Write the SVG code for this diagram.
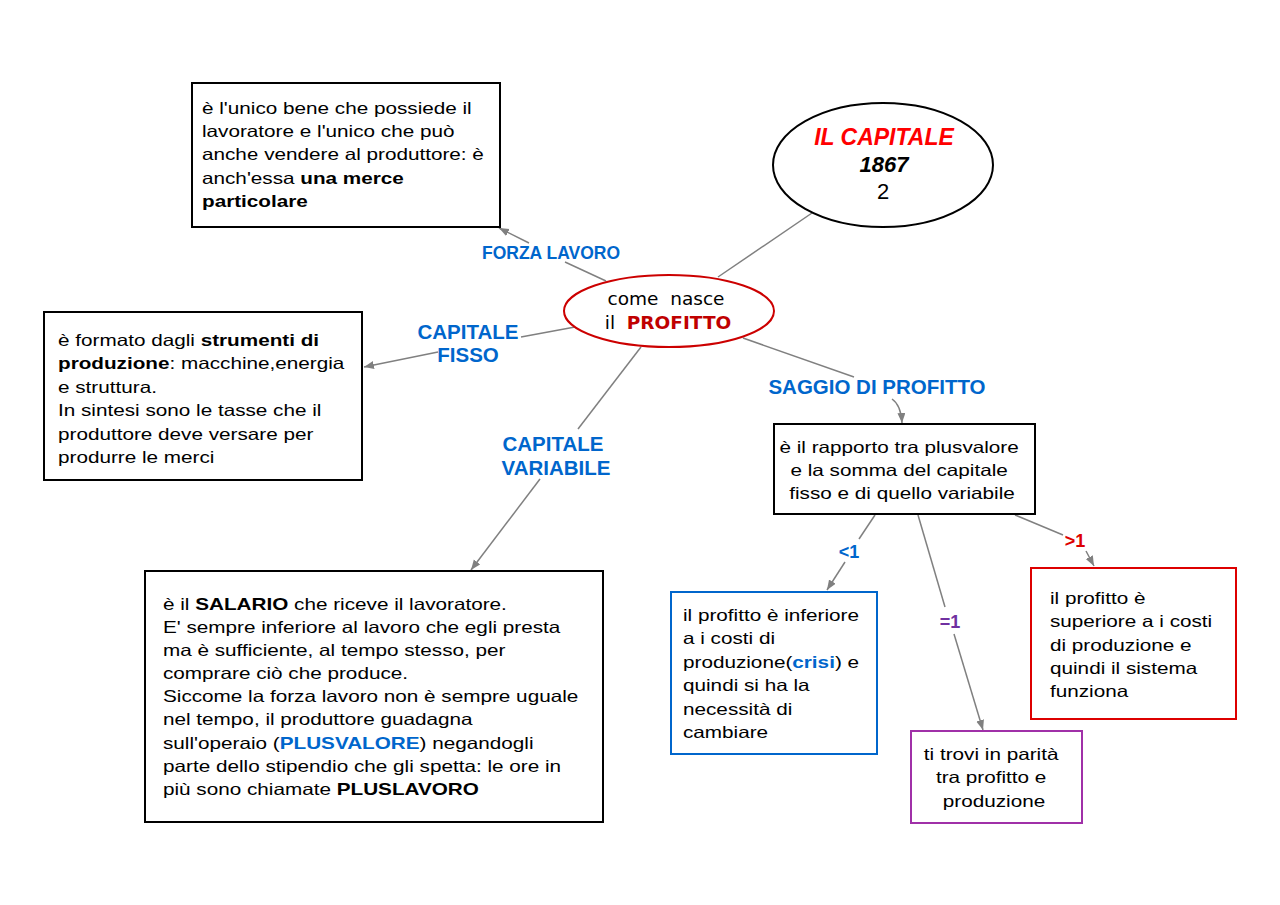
<svg xmlns="http://www.w3.org/2000/svg" width="1280" height="905" viewBox="0 0 1280 905">
<defs>
<style>
.body{font-family:"Liberation Sans",Arial,sans-serif;font-size:16.3px;fill:#000}
.b{font-weight:bold}
.blu{fill:#0066cc;font-weight:bold}
.lbl{font-family:"Liberation Sans",Arial,sans-serif;font-weight:bold;fill:#0066cc;text-anchor:middle}
.box{fill:#fff;stroke:#000;stroke-width:2}
.con{fill:none;stroke:#808080;stroke-width:1.5}
</style>
<marker id="arr" markerUnits="userSpaceOnUse" markerWidth="11" markerHeight="9" refX="10" refY="4" orient="auto">
<path d="M0,0 L10,4 L0,8 z" fill="#808080"/>
</marker>
</defs>
<rect width="1280" height="905" fill="#fff"/>

<g id="connectors">
<path class="con" d="M718,277 L812,213"/>
<path class="con" d="M606,281 L565,262"/>
<path class="con" d="M529,243 L499,228" marker-end="url(#arr)"/>
<path class="con" d="M575,327 L521,337"/>
<path class="con" d="M438,352 L364,367" marker-end="url(#arr)"/>
<path class="con" d="M641,347 L578,429"/>
<path class="con" d="M540,479 L471,570" marker-end="url(#arr)"/>
<path class="con" d="M743,338 L854,377"/>
<path class="con" d="M892,399 Q901,405 902,423" marker-end="url(#arr)"/>
<path class="con" d="M875,515 L859,539"/>
<path class="con" d="M845,562 L827,590" marker-end="url(#arr)"/>
<path class="con" d="M918,515 L945,607"/>
<path class="con" d="M954,634 L983,730" marker-end="url(#arr)"/>
<path class="con" d="M1015,515 L1063,535"/>
<path class="con" d="M1086,551 L1094,566" marker-end="url(#arr)"/>
<text class="lbl" x="551" y="259" font-size="17.5">FORZA LAVORO</text>
<text class="lbl" x="468" y="339" font-size="20.5">CAPITALE</text>
<text class="lbl" x="468" y="362" font-size="20.5">FISSO</text>
<text class="lbl" x="553" y="451" font-size="20.5">CAPITALE</text>
<text class="lbl" x="556" y="475" font-size="20.5">VARIABILE</text>
<text class="lbl" x="877" y="394" font-size="20.5">SAGGIO DI PROFITTO</text>
<text class="lbl" x="849" y="558" font-size="18">&lt;1</text>
<text class="lbl" x="950" y="628" font-size="18" style="fill:#7030a0">=1</text>
<text class="lbl" x="1075" y="547" font-size="18" style="fill:#dd0000">&gt;1</text>
</g>

<g id="n-capitale">
<ellipse cx="883" cy="165" rx="110" ry="62" fill="#fff" stroke="#000" stroke-width="2"/>
<text x="884" y="145" text-anchor="middle" font-family="Liberation Sans, Arial, sans-serif" font-size="23" font-weight="bold" font-style="italic" fill="#ff0000">IL CAPITALE</text>
<text x="884" y="172" text-anchor="middle" font-family="Liberation Sans, Arial, sans-serif" font-size="22" font-weight="bold" font-style="italic" fill="#000">1867</text>
<text x="883" y="199" text-anchor="middle" font-family="Liberation Sans, Arial, sans-serif" font-size="22" fill="#000">2</text>
</g>

<g id="n-profitto">
<ellipse cx="669" cy="311" rx="105" ry="36" fill="#fff" stroke="#cc0000" stroke-width="2"/>
<text x="666" y="305" text-anchor="middle" font-family="DejaVu Sans, Verdana, sans-serif" font-size="18.5" fill="#000" xml:space="preserve">come  nasce</text>
<text x="668" y="329" text-anchor="middle" font-family="DejaVu Sans, Verdana, sans-serif" font-size="18.5" fill="#000" xml:space="preserve">il  <tspan font-weight="bold" fill="#c00000">PROFITTO</tspan></text>
</g>

<g id="n-forza">
<rect class="box" x="192" y="83" width="308" height="144"/>
<text class="body" transform="translate(202 0) scale(1.27 1)">
<tspan x="0" y="114">è l'unico bene che possiede il</tspan>
<tspan x="0" y="137">lavoratore e l'unico che può</tspan>
<tspan x="0" y="160">anche vendere al produttore: è</tspan>
<tspan x="0" y="184">anch'essa <tspan class="b">una merce</tspan></tspan>
<tspan x="0" y="207" class="b">particolare</tspan>
</text>
</g>

<g id="n-fisso">
<rect class="box" x="44" y="312" width="318" height="168"/>
<text class="body" transform="translate(58 0) scale(1.27 1)">
<tspan x="0" y="346">è formato dagli <tspan class="b">strumenti di</tspan></tspan>
<tspan x="0" y="369.4"><tspan class="b">produzione</tspan>: macchine,energia</tspan>
<tspan x="0" y="392.8">e struttura.</tspan>
<tspan x="0" y="416.2">In sintesi sono le tasse che il</tspan>
<tspan x="0" y="439.6">produttore deve versare per</tspan>
<tspan x="0" y="463">produrre le merci</tspan>
</text>
</g>

<g id="n-salario">
<rect class="box" x="145" y="571" width="458" height="251"/>
<text class="body" transform="translate(163 0) scale(1.27 1)">
<tspan x="0" y="610">è il <tspan class="b">SALARIO</tspan> che riceve il lavoratore.</tspan>
<tspan x="0" y="633.1">E' sempre inferiore al lavoro che egli presta</tspan>
<tspan x="0" y="656.2">ma è sufficiente, al tempo stesso, per</tspan>
<tspan x="0" y="679.3">comprare ciò che produce.</tspan>
<tspan x="0" y="702.4">Siccome la forza lavoro non è sempre uguale</tspan>
<tspan x="0" y="725.5">nel tempo, il produttore guadagna</tspan>
<tspan x="0" y="748.6">sull'operaio (<tspan class="blu">PLUSVALORE</tspan>) negandogli</tspan>
<tspan x="0" y="771.7">parte dello stipendio che gli spetta: le ore in</tspan>
<tspan x="0" y="794.8">più sono chiamate <tspan class="b">PLUSLAVORO</tspan></tspan>
</text>
</g>

<g id="n-saggio">
<rect class="box" x="774" y="424" width="261" height="90"/>
<text class="body" text-anchor="middle" transform="translate(902 0) scale(1.27 1)">
<tspan x="0" y="453">è il rapporto tra plusvalore</tspan>
<tspan x="0" y="476">e la somma del capitale</tspan>
<tspan x="0" y="499">fisso e di quello variabile</tspan>
</text>
</g>

<g id="n-minore">
<rect x="671" y="592" width="206" height="162" fill="#fff" stroke="#0066cc" stroke-width="2"/>
<text class="body" transform="translate(683 0) scale(1.27 1)">
<tspan x="0" y="621">il profitto è inferiore</tspan>
<tspan x="0" y="644.4">a i costi di</tspan>
<tspan x="0" y="667.8">produzione(<tspan class="blu">crisi</tspan>) e</tspan>
<tspan x="0" y="691.2">quindi si ha la</tspan>
<tspan x="0" y="714.6">necessità di</tspan>
<tspan x="0" y="738">cambiare</tspan>
</text>
</g>

<g id="n-uguale">
<rect x="911" y="731" width="171" height="92" fill="#fff" stroke="#a030a8" stroke-width="2"/>
<text class="body" text-anchor="middle" transform="translate(994 0) scale(1.27 1)">
<tspan x="0" y="760">ti trovi in parità</tspan>
<tspan x="0" y="783.4">tra profitto e</tspan>
<tspan x="0" y="806.8">produzione</tspan>
</text>
</g>

<g id="n-maggiore">
<rect x="1031" y="568" width="205" height="151" fill="#fff" stroke="#dd0000" stroke-width="2"/>
<text class="body" transform="translate(1050 0) scale(1.27 1)">
<tspan x="0" y="604">il profitto è</tspan>
<tspan x="0" y="627.3">superiore a i costi</tspan>
<tspan x="0" y="650.6">di produzione e</tspan>
<tspan x="0" y="673.9">quindi il sistema</tspan>
<tspan x="0" y="697.2">funziona</tspan>
</text>
</g>
</svg>
